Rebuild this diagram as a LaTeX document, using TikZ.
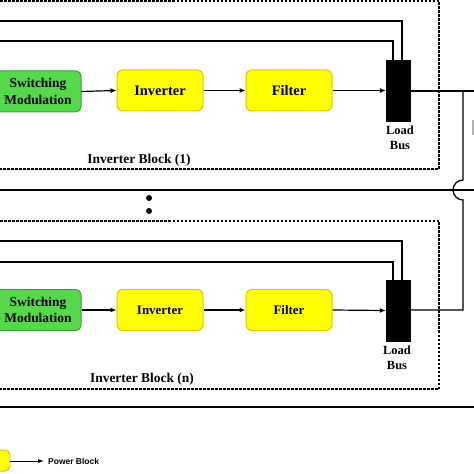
\documentclass[tikz,border=0pt]{standalone}
\usepackage{fontspec}
\setmainfont{Liberation Serif}
\newfontfamily\legendfont{Liberation Sans}
\usetikzlibrary{arrows.meta}
\definecolor{swgreen}{HTML}{55D84A}
\definecolor{swgreenb}{HTML}{3E9E34}
\definecolor{pyellow}{HTML}{FFFF00}
\definecolor{pyellowb}{HTML}{E3C300}
\tikzset{
  x=1bp, y=-1bp,
  swbox/.style={draw=swgreenb, fill=swgreen, line width=1pt, rounded corners=5bp,
    minimum width=86bp, minimum height=41bp, inner sep=0pt, align=center,
    font=\bfseries\fontsize{13.5}{16.5}\selectfont},
  pwbox/.style={draw=pyellowb, fill=pyellow, line width=1pt, rounded corners=6bp,
    minimum width=86bp, minimum height=41bp, inner sep=0pt, align=center},
  busbox/.style={draw=black, fill=black, minimum width=24bp, minimum height=61bp, inner sep=0pt},
  wire/.style={line width=1.3pt},
  sig/.style={line width=1.2pt, -{Latex[length=6bp,width=5bp]}},
  blockframe/.style={line width=1.6pt, dash pattern=on 2.5bp off 1.5bp},
  lbl/.style={font=\bfseries\fontsize{13.5}{16}\selectfont, inner sep=0pt},
  buslbl/.style={font=\bfseries\fontsize{12.5}{15}\selectfont, inner sep=0pt, align=center},
}
\begin{document}
\begin{tikzpicture}
\useasboundingbox (0,0) rectangle (474,474);
\clip (0,0) rectangle (474,474);
\fill[white] (0,0) rectangle (474,474);

% ---- block frames
\draw[blockframe] (-5,1) rectangle (439,169);
\draw[blockframe] (-5,221) rectangle (439,389);

% ---- top block
\node[swbox] (sw1) at (38,91.5) {Switching\\Modulation};
\node[pwbox, font=\bfseries\fontsize{14.5}{16}\selectfont] (inv1) at (160,90.5) {Inverter};
\node[pwbox, font=\bfseries\fontsize{14.5}{16}\selectfont] (fil1) at (289,90.5) {Filter};
\node[busbox] (bus1) at (398,90.5) {};
\node[buslbl, anchor=north] (bl1) at (400,126) {Load\\Bus};
\node[lbl] (ib1) at (139,160) {Inverter Block (1)};

\draw[sig] (sw1.east) -- (inv1.west);
\draw[sig] (inv1.east) -- (fil1.west);
\draw[sig] (fil1.east) -- (bus1.west);

\coordinate (c1a) at (0,21);
\coordinate (c1b) at (0,41);
\draw[wire] (c1a) -| ([xshift=4bp]bus1.north);
\draw[wire] (c1b) -| ([xshift=-5bp]bus1.north);

% ---- bottom block
\node[swbox] (sw2) at (38,310) {Switching\\Modulation};
\node[pwbox, font=\bfseries\fontsize{13}{16}\selectfont] (inv2) at (160,310) {Inverter};
\node[pwbox, font=\bfseries\fontsize{13}{16}\selectfont] (fil2) at (289,310) {Filter};
\node[busbox] (bus2) at (398,310.5) {};
\node[buslbl, anchor=north] (bl2) at (397,346) {Load\\Bus};
\node[lbl] (ib2) at (142,379) {Inverter Block (n)};

\draw[sig] (sw2.east) -- (inv2.west);
\draw[sig] (inv2.east) -- (fil2.west);
\draw[sig] (fil2.east) -- (bus2.west);

\coordinate (c2a) at (0,241);
\coordinate (c2b) at (0,262);
\draw[wire] (c2a) -| ([xshift=4bp]bus2.north);
\draw[wire] (c2b) -| ([xshift=-5bp]bus2.north);

% ---- output bus lines
\coordinate (out1) at (474,91);
\coordinate (j1) at (463,91);
\coordinate (j2) at (463,310);
\draw[wire] (bus1.east |- j1) -- (out1);
\draw[wire] (bus2.east |- j2) -- (j2) -- (463,200)
   arc[start angle=90, end angle=270, radius=10] -- (j1);

% ---- common horizontal lines
\coordinate (h1a) at (0,190);
\coordinate (h1b) at (474,190);
\draw[line width=1.4pt] (h1a) -- (h1b);
\coordinate (h2a) at (0,407);
\coordinate (h2b) at (474,407);
\draw[line width=1.8pt] (h2a) -- (h2b);

% ---- dots
\fill (149,198) circle[radius=3];
\fill (149,211) circle[radius=3];

% ---- cut-off mark at right edge
\fill[gray!60] (472,120) rectangle (475,135);

% ---- legend
\node[pwbox, minimum width=20bp, minimum height=21bp, rounded corners=5bp] (leg) at (0,460.5) {};
\coordinate (legend-end) at (44,461);
\draw[line width=0.8pt, -{Latex[length=6bp,width=4bp]}] (leg.east |- legend-end) -- (legend-end);
\node[anchor=west, inner sep=0pt, font=\legendfont\bfseries\fontsize{8.5}{10}\selectfont] (legt) at (48,461) {Power Block};
\end{tikzpicture}
\end{document}
